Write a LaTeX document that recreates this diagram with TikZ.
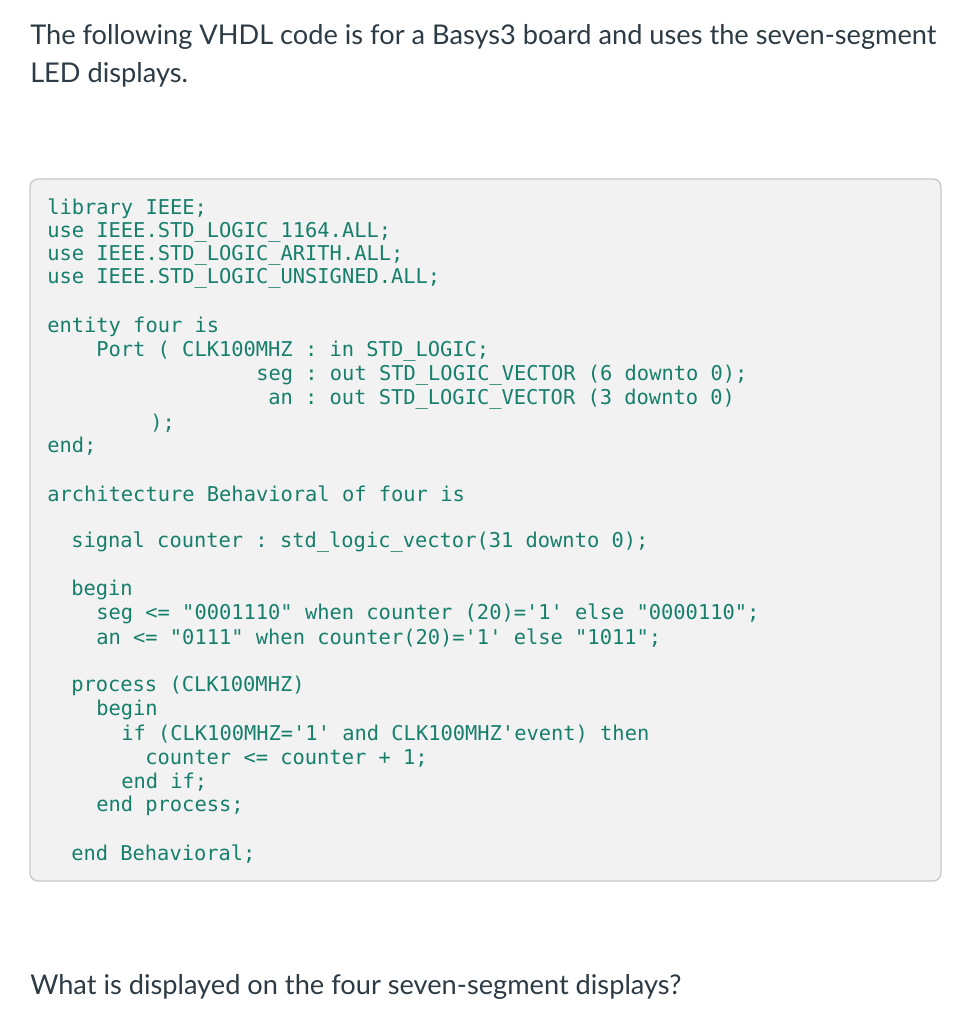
\documentclass[tikz,border=0pt]{standalone}
\usepackage{fontspec}
\setmainfont{Lato}
\setmonofont{DejaVu Sans Mono}
\definecolor{codec}{HTML}{167F6B}
\definecolor{boxbg}{HTML}{F2F2F2}
\definecolor{boxbd}{HTML}{C5CACD}
\definecolor{txt}{HTML}{2D3B45}
\begin{document}
\begin{tikzpicture}[x=0.75pt,y=-0.75pt,
  code/.style={anchor=west,inner sep=0pt,text=codec,font=\ttfamily\fontsize{15.3}{17}\selectfont},
  prose/.style={anchor=west,inner sep=0pt,text=txt,font=\fontsize{20.4}{24}\selectfont}]
\useasboundingbox (0,0) rectangle (966,1024);
\fill[white] (0,0) rectangle (966,1024);
\node[prose] (h1) at (30,37) {The following VHDL code is for a Basys3 board and uses the seven-segment};
\node[prose] (h2) at (30,75) {LED displays.};
\draw[boxbd,fill=boxbg,rounded corners=6pt,line width=1pt] (30,179) rectangle (941,881);
\node[code] (l1) at (47,209) {library IEEE;};
\node[code] (l2) at (47,232) {use IEEE.STD\_LOGIC\_1164.ALL;};
\node[code] (l3) at (47,255) {use IEEE.STD\_LOGIC\_ARITH.ALL;};
\node[code] (l4) at (47,278) {use IEEE.STD\_LOGIC\_UNSIGNED.ALL;};
\node[code] (l5) at (47,327) {entity four is};
\node[code] (l6) at (96,351) {Port ( CLK100MHZ : in STD\_LOGIC;};
\node[code] (l7) at (256,375) {seg : out STD\_LOGIC\_VECTOR (6 downto 0);};
\node[code] (l8) at (268,399) {an : out STD\_LOGIC\_VECTOR (3 downto 0)};
\node[code] (l9) at (150,423) {);};
\node[code] (l10) at (47,446) {end;};
\node[code] (l11) at (47,494) {architecture Behavioral of four is};
\node[code] (l12) at (71,542) {signal counter : std\_logic\_vector(31 downto 0);};
\node[code] (l13) at (71,590) {begin};
\node[code] (l14) at (96,614) {seg <= "0001110" when counter (20)='1' else "0000110";};
\node[code] (l15) at (96,638) {an <= "0111" when counter(20)='1' else "1011";};
\node[code] (l16) at (71,686) {process (CLK100MHZ)};
\node[code] (l17) at (96,710) {begin};
\node[code] (l18) at (121,734) {if (CLK100MHZ='1' and CLK100MHZ'event) then};
\node[code] (l19) at (145,758) {counter <= counter + 1;};
\node[code] (l20) at (121,782) {end if;};
\node[code] (l21) at (96,806) {end process;};
\node[code] (l22) at (71,854) {end Behavioral;};
\node[prose] (q) at (30,987) {What is displayed on the four seven-segment displays?};
\end{tikzpicture}
\end{document}
